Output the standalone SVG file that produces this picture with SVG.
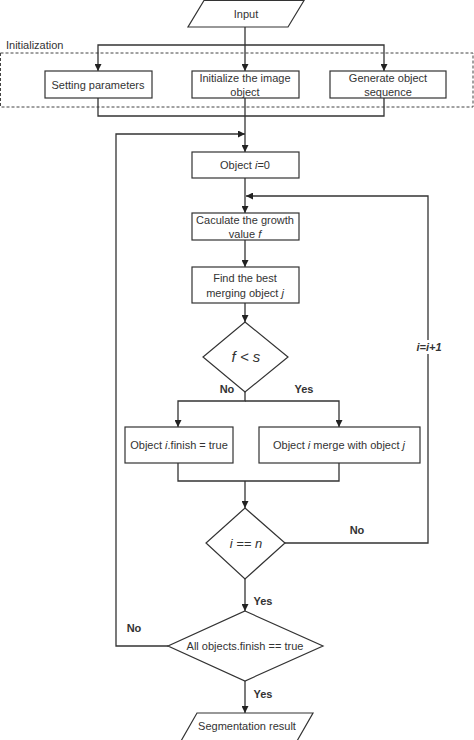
<svg xmlns="http://www.w3.org/2000/svg" width="474" height="740" viewBox="0 0 474 740">
<defs>
<marker id="arr" viewBox="0 0 10 10" refX="10" refY="5" markerWidth="7" markerHeight="7" markerUnits="userSpaceOnUse" orient="auto">
<path d="M0,0 L10,5 L0,10 Z" fill="#222"/>
</marker>
</defs>
<style>
.shape{fill:#fff;stroke:#333;stroke-width:1.2}
.c{fill:none;stroke:#333;stroke-width:1.3}
.t{font-family:"Liberation Sans",Arial,sans-serif;font-size:11px;fill:#333;text-anchor:middle}
.lbl{font-family:"Liberation Sans",Arial,sans-serif;font-size:11px;font-weight:bold;fill:#333;text-anchor:middle}
.i{font-style:italic}
</style>
<rect width="474" height="740" fill="#fff"/>
<g id="init-group">
<rect x="0.5" y="53" width="472.5" height="54" fill="none" stroke="#444" stroke-width="1" stroke-dasharray="3,2"/>
<text x="6" y="49" class="t" style="text-anchor:start">Initialization</text>
</g>
<g id="connectors">
<path class="c" d="M245,27 V71" marker-end="url(#arr)"/>
<path class="c" d="M245,45 H98 V71" marker-end="url(#arr)"/>
<path class="c" d="M245,45 H384 V71" marker-end="url(#arr)"/>
<path class="c" d="M98,98 V116 H384 V98"/>
<path class="c" d="M245,98 V152" marker-end="url(#arr)"/>
<path class="c" d="M168,646 H116 V134 H245" marker-end="url(#arr)"/>
<path class="c" d="M245,178 V213" marker-end="url(#arr)"/>
<path class="c" d="M285,543 H428 V196 H246" marker-end="url(#arr)"/>
<path class="c" d="M245,240 V267" marker-end="url(#arr)"/>
<path class="c" d="M245,303 V322" marker-end="url(#arr)"/>
<path class="c" d="M245,392 V401 H178 V427" marker-end="url(#arr)"/>
<path class="c" d="M245,401 H339 V427" marker-end="url(#arr)"/>
<path class="c" d="M178,463 V481 H339 V463"/>
<path class="c" d="M245,481 V508" marker-end="url(#arr)"/>
<path class="c" d="M245,579 V611" marker-end="url(#arr)"/>
<path class="c" d="M245,681 V713" marker-end="url(#arr)"/>
<text x="227" y="393" class="lbl">No</text>
<text x="304" y="393" class="lbl">Yes</text>
<rect x="414" y="340" width="30" height="14" fill="#fff"/>
<text x="429" y="351" class="lbl i">i=i+1</text>
<text x="357" y="534" class="lbl">No</text>
<text x="263" y="605" class="lbl">Yes</text>
<text x="134" y="632" class="lbl">No</text>
<text x="263" y="698" class="lbl">Yes</text>
</g>
<g id="input">
<polygon class="shape" points="204,0.5 304,0.5 288,27 188,27"/>
<text x="246" y="18" class="t">Input</text>
</g>
<g id="setting-parameters">
<rect class="shape" x="45" y="71" width="107" height="27"/>
<text x="98" y="89" class="t">Setting parameters</text>
</g>
<g id="initialize-image">
<rect class="shape" x="192" y="71" width="107" height="27"/>
<text x="245" y="82" class="t">Initialize the image</text>
<text x="245" y="96" class="t">object</text>
</g>
<g id="generate-sequence">
<rect class="shape" x="330" y="71" width="116" height="27"/>
<text x="388" y="82" class="t">Generate object</text>
<text x="388" y="96" class="t">sequence</text>
</g>
<g id="object-i0">
<rect class="shape" x="192" y="152" width="107" height="26"/>
<text x="245" y="169" class="t">Object <tspan class="i">i</tspan>=0</text>
</g>
<g id="calculate">
<rect class="shape" x="192" y="213" width="107" height="27"/>
<text x="245" y="224" class="t">Caculate the growth</text>
<text x="245" y="238" class="t">value <tspan class="i">f</tspan></text>
</g>
<g id="find-best">
<rect class="shape" x="192" y="267" width="107" height="36"/>
<text x="245" y="282" class="t">Find the best</text>
<text x="245" y="297" class="t">merging object  <tspan class="i">j</tspan></text>
</g>
<g id="decision-f-s">
<polygon class="shape" points="245,322 288,357 245,392 203,357"/>
<text x="246" y="362" class="t i" style="font-size:15px">f &lt; s</text>
</g>
<g id="object-finish">
<rect class="shape" x="125" y="427" width="108" height="36"/>
<text x="179" y="449" class="t">Object <tspan class="i">i</tspan>.finish = true</text>
</g>
<g id="object-merge">
<rect class="shape" x="259" y="427" width="161" height="36"/>
<text x="339" y="449" class="t">Object <tspan class="i">i</tspan> merge with object <tspan class="i">j</tspan></text>
</g>
<g id="decision-i-n">
<polygon class="shape" points="245,508 285,543 245,579 206,543"/>
<text x="246" y="548" class="t i" style="font-size:13px">i == n</text>
</g>
<g id="decision-all">
<polygon class="shape" points="245,611 323,646 245,681 168,646"/>
<text x="245" y="650" class="t">All objects.finish == true</text>
</g>
<g id="segmentation-result">
<polygon class="shape" points="197,713 313,713 297,741 181,741"/>
<text x="247" y="730" class="t">Segmentation result</text>
</g>
</svg>
